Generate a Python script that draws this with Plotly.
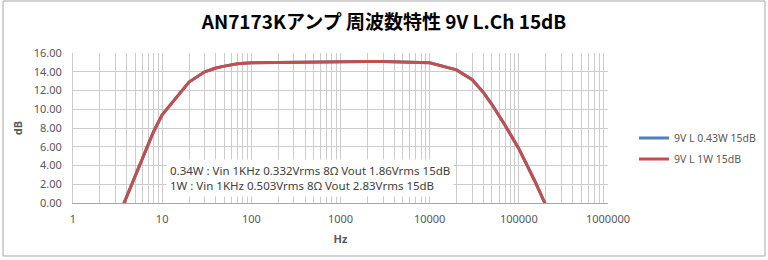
import plotly.graph_objects as go

# ---- data ----
freq_hz = [3, 4, 5, 6, 7, 8, 10, 15, 20, 30, 40, 50, 70, 100, 200, 500, 1000, 2000,
           3000, 5000, 7000, 10000, 20000, 30000, 40000, 50000, 70000, 100000, 150000,
           200000, 250000]
db_043w = [-2.2, 0.7, 2.9, 4.7, 6.3, 7.6, 9.4, 11.5, 12.9, 14.0, 14.4, 14.6, 14.85, 14.95,
           15.0, 15.05, 15.1, 15.1, 15.1, 15.05, 15.0, 14.95, 14.2, 13.15, 11.8, 10.5, 8.3,
           5.8, 2.4, -0.2, -3.0]
db_1w = [-2.2, 0.7, 2.9, 4.7, 6.3, 7.6, 9.4, 11.5, 12.9, 14.0, 14.4, 14.6, 14.85, 14.95,
         15.0, 15.05, 15.1, 15.1, 15.1, 15.05, 15.0, 14.95, 14.2, 13.15, 11.8, 10.5, 8.3,
         5.8, 2.4, -0.2, -3.0]
series_names = ["9V L 0.43W 15dB", "9V L 1W 15dB"]
series_colors = ["#4F81BD", "#C0504D"]
title_text = "AN7173Kアンプ 周波数特性 9V L.Ch 15dB"
note_lines = ["0.34W : Vin 1KHz 0.332Vrms 8Ω Vout 1.86Vrms 15dB",
              "1W : Vin 1KHz 0.503Vrms 8Ω Vout 2.83Vrms 15dB"]
x_major = [1, 10, 100, 1000, 10000, 100000, 1000000]
x_major_text = ["1", "10", "100", "1000", "10000", "100000", "1000000"]
x_minor = [m * d for d in [1, 10, 100, 1000, 10000, 100000] for m in range(2, 10)]

# ---- layout geometry (pixels) ----
W, H = 768, 260
L, R, T, B = 73, 608, 53, 203


def px(x):
    return (x - L) / (R - L)


def py(y):
    return (B - y) / (B - T)


FONT = "Noto Sans, Liberation Sans, sans-serif"
TXT = "#595959"
GRID = "#CCCCCC"

fig = go.Figure()
for i, (name, ys, col) in enumerate(zip(series_names, [db_043w, db_1w], series_colors)):
    fig.add_trace(go.Scatter(x=freq_hz, y=ys, mode="lines", name=name,
                             legendgroup="g%d" % i,
                             line=dict(color=col, width=3), cliponaxis=True))

fig.update_layout(
    width=W, height=H,
    margin=dict(l=L, r=W - R, t=T, b=H - B, autoexpand=False),
    paper_bgcolor="white", plot_bgcolor="white",
    font=dict(family=FONT, color=TXT, size=11),
    title=dict(text="<b>" + title_text + "</b>", x=0.5, xanchor="center",
               xref="container", y=1 - 22 / H, yanchor="middle", yref="container",
               font=dict(family="Noto Sans CJK JP, sans-serif", size=19, color="#000000")),
    showlegend=True,
    legend=dict(x=px(634), xanchor="left", y=py(148.5), yanchor="middle",
                bgcolor="rgba(0,0,0,0)", font=dict(size=10.5, color=TXT),
                tracegroupgap=2),
)
fig.update_xaxes(type="log", range=[0, 6], tickvals=x_major, ticktext=x_major_text,
                 showgrid=True, gridcolor=GRID, gridwidth=1,
                 minor=dict(tickvals=x_minor, showgrid=True, gridcolor=GRID, gridwidth=1),
                 showline=True, linecolor="#A6A6A6", linewidth=1, zeroline=False,
                 ticks="", tickfont=dict(size=11, color=TXT), ticklabelstandoff=6,
                 title=dict(text="<b>Hz</b>", font=dict(size=11, color=TXT), standoff=10))
fig.update_yaxes(range=[0, 16], dtick=2, tickformat=".2f",
                 showgrid=True, gridcolor=GRID, gridwidth=1,
                 showline=True, linecolor=GRID, linewidth=1, zeroline=False,
                 ticks="", tickfont=dict(size=11, color=TXT), ticklabelstandoff=8,
                 title=dict(text="<b>dB</b>", font=dict(size=11, color=TXT), standoff=8))

# note box
fig.add_annotation(xref="paper", yref="paper", x=px(166), y=py(159),
                   xanchor="left", yanchor="top", align="left", showarrow=False,
                   text="<br>".join(note_lines), bgcolor="white", borderpad=3,
                   font=dict(size=11.5, color="#404040"))

# outer chart border
fig.add_shape(type="rect", xref="paper", yref="paper",
              x0=px(3), x1=px(765), y0=py(256), y1=py(1),
              line=dict(color="#A6A6A6", width=1), fillcolor="rgba(0,0,0,0)")

fig.write_html("out.html")
